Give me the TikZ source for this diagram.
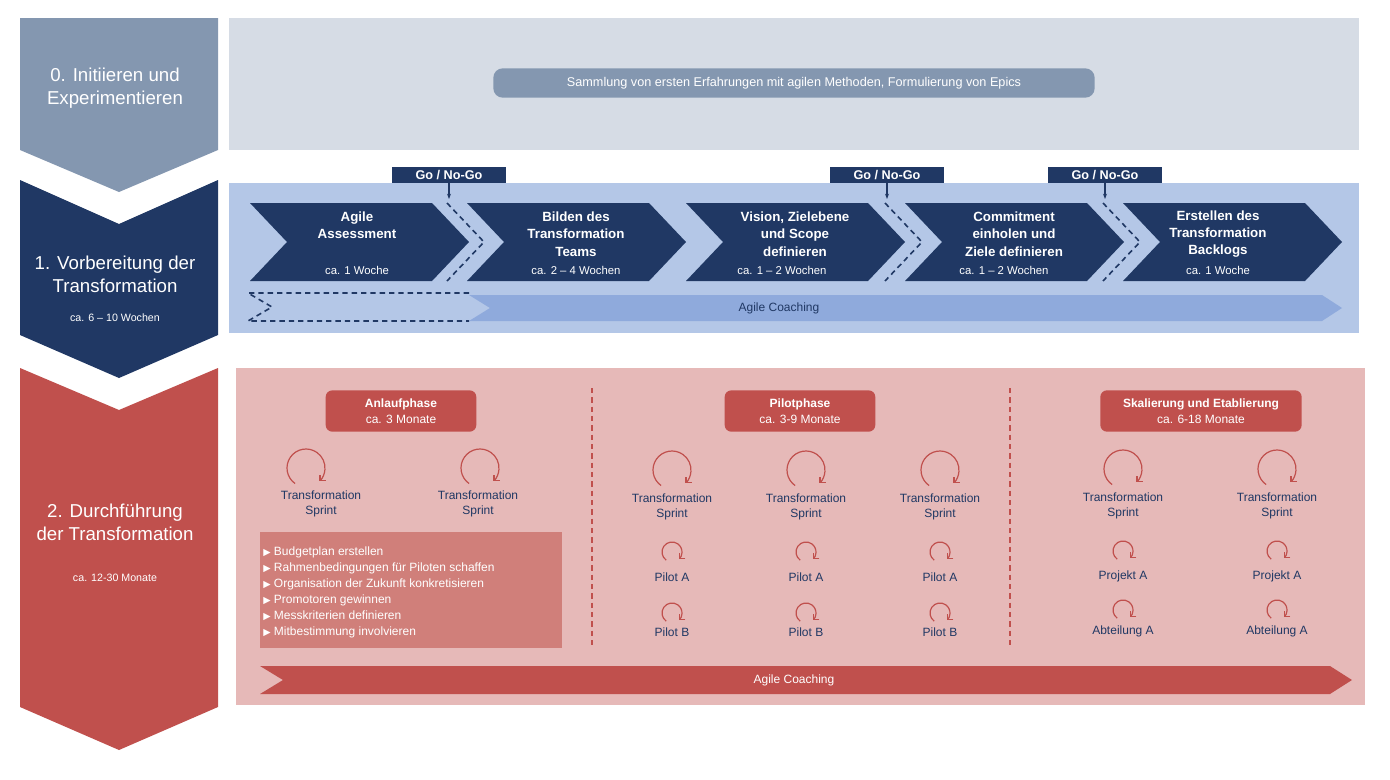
\documentclass[tikz,border=0pt]{standalone}
\usepackage{fontspec}
\setmainfont{Liberation Sans}
\usetikzlibrary{arrows.meta}
\definecolor{navy}{HTML}{203864}
\definecolor{grayblue}{HTML}{8497B0}
\definecolor{pale0}{HTML}{D6DCE5}
\definecolor{pale1}{HTML}{B4C7E7}
\definecolor{mid1}{HTML}{8FAADC}
\definecolor{red2}{HTML}{C0504D}
\definecolor{pale2}{HTML}{E6B9B8}
\definecolor{box2}{HTML}{D07F7A}
\newcommand{\mycyc}[3]{\draw[red2,line width=0.9pt,-{Straight Barb[length=3pt]}] (#1,#2) ++(-235:#3) arc[start angle=-235,end angle=45,radius=#3];}
\begin{document}
\begin{tikzpicture}[x=0.75pt,y=-0.75pt,
  phase/.style={text=white,align=center,font=\fontsize{14}{17}\selectfont},
  small/.style={text=white,font=\fontsize{8}{10}\selectfont},
  chev/.style={text=white,align=center,font=\bfseries\fontsize{10}{13}\selectfont},
  chevs/.style={text=white,font=\fontsize{8.5}{10}\selectfont},
  gobox/.style={fill=navy,text=white,font=\bfseries\fontsize{9.5}{11}\selectfont,minimum width=86pt,minimum height=12pt,inner sep=0pt},
  lbl/.style={text=navy,align=center,font=\fontsize{9}{11}\selectfont},
  hdr/.style={fill=red2,rounded corners=5pt,text=white,align=center,font=\fontsize{9}{12}\selectfont,minimum height=31pt,inner sep=0pt},
  dsh/.style={navy,dashed,line width=1.2pt,dash pattern=on 4pt off 3pt}]
\useasboundingbox (0,0) rectangle (1390,779);
\fill[white] (0,0) rectangle (1390,779);
% left chevrons
\fill[grayblue] (20,18) -- (218,18) -- (218,150) -- (119,192) -- (20,150) -- cycle;
\node[phase] (p0) at (115,88) {0. Initiieren und\\Experimentieren};
\fill[navy] (20,180) -- (119,224) -- (218,180) -- (218,335) -- (119,378) -- (20,335) -- cycle;
\node[phase] (p1) at (115,274) {1. Vorbereitung der\\Transformation};
\node[small] (p1d) at (115,318) {ca. 6 – 10 Wochen};
\fill[red2] (20,368) -- (119,410) -- (218,368) -- (218,707) -- (119,750) -- (20,707) -- cycle;
\node[phase] (p2) at (115,522) {2. Durchführung\\der Transformation};
\node[small] (p2d) at (115,578) {ca. 12-30 Monate};
% panel 0
\fill[pale0] (229,18) rectangle (1359,150);
\node[fill=grayblue,rounded corners=7pt,text=white,minimum width=451pt,minimum height=22pt,inner sep=0pt,font=\fontsize{9.5}{11}\selectfont] (epic) at (794,83) {Sammlung von ersten Erfahrungen mit agilen Methoden, Formulierung von Epics};
% panel 1
\fill[pale1] (229,183) rectangle (1359,333);
\foreach \L in {250,467,686,905,1123}{
  \fill[navy] (\L,203) -- (\L+182,203) -- (\L+219,242) -- (\L+182,281) -- (\L,281) -- (\L+37,242) -- cycle;}
\node[chev] (c1) at (357,225) {Agile\\Assessment};
\node[chevs] (c1d) at (357,270) {ca. 1 Woche};
\node[chev] (c2) at (576,234) {Bilden des\\Transformation\\Teams};
\node[chevs] (c2d) at (576,270) {ca. 2 – 4 Wochen};
\node[chev] (c3) at (795,234) {Vision, Zielebene\\und Scope\\definieren};
\node[chevs] (c3d) at (782,270) {ca. 1 – 2 Wochen};
\node[chev] (c4) at (1014,234) {Commitment\\einholen und\\Ziele definieren};
\node[chevs] (c4d) at (1004,270) {ca. 1 – 2 Wochen};
\node[chev] (c5) at (1218,234) {Erstellen des\\Transformation\\Backlogs};
\node[chevs] (c5d) at (1218,270) {ca. 1 Woche};
% agile coaching bar 1
\fill[mid1] (469,295) -- (1322,295) -- (1342,308) -- (1322,321) -- (469,321) -- (490,308) -- cycle;
\node[text=navy,font=\fontsize{9}{11}\selectfont] (ac1) at (779,308) {Agile Coaching};
\draw[dsh] (469,293) -- (248,293) -- (272,307) -- (248,321) -- (469,321);
% dashed separators
\foreach \L in {467,905,1123}{
  \draw[dsh] (\L-20,203) -- (\L+17,242) -- (\L-20,281);}
% go boxes
\node[gobox] (g1) at (449,175) {Go / No-Go};
\node[gobox] (g2) at (887,175) {Go / No-Go};
\node[gobox] (g3) at (1105,175) {Go / No-Go};
\coordinate (a1) at (449,199);\coordinate (a2) at (887,199);\coordinate (a3) at (1105,199);
\foreach \i in {1,2,3}{\draw[navy,line width=0.8pt,-{Stealth[length=4pt]}] (g\i.south) -- (a\i);}
% panel 2
\fill[pale2] (236,368) rectangle (1365,705);
\draw[red2,dashed,line width=1pt,dash pattern=on 4pt off 3pt] (592,388) -- (592,648);
\draw[red2,dashed,line width=1pt,dash pattern=on 4pt off 3pt] (1010,388) -- (1010,648);
\node[hdr,minimum width=113pt] (h1) at (401,411) {\textbf{Anlaufphase}\\ca. 3 Monate};
\node[hdr,minimum width=113pt] (h2) at (800,411) {\textbf{Pilotphase}\\ca. 3-9 Monate};
\node[hdr,minimum width=151pt] (h3) at (1201,411) {\textbf{Skalierung und Etablierung}\\ca. 6-18 Monate};
% sprints
\foreach \x/\y in {306/468,480/468}{\mycyc{\x}{\y}{19}}
\node[lbl] (s1) at (321,504) {Transformation\\Sprint};
\node[lbl] (s2) at (478,504) {Transformation\\Sprint};
\foreach \x in {672,806,940}{
  \mycyc{\x}{470}{19}
  \mycyc{\x}{552}{10}
  \mycyc{\x}{613}{10}
  \node[lbl] at (\x,507) {Transformation\\Sprint};
  \node[lbl] at (\x,577) {Pilot A};
  \node[lbl] at (\x,632) {Pilot B};}
\foreach \x in {1123,1277}{
  \mycyc{\x}{469}{19}
  \mycyc{\x}{551}{10}
  \mycyc{\x}{610}{10}
  \node[lbl] at (\x,506) {Transformation\\Sprint};
  \node[lbl] at (\x,576) {Projekt A};
  \node[lbl] at (\x,631) {Abteilung A};}
% list box
\fill[box2] (260,532) rectangle (562,648);
\node[text=white,align=left,anchor=north west,inner sep=0pt,font=\fontsize{9}{12}\selectfont] (list) at (263,547) {%
\fontspec{DejaVu Sans}\scalebox{0.8}{▶}\setmainfont{Liberation Sans}\rmfamily{} Budgetplan erstellen\\
{\fontspec{DejaVu Sans}\scalebox{0.8}{▶}} Rahmenbedingungen für Piloten schaffen\\
{\fontspec{DejaVu Sans}\scalebox{0.8}{▶}} Organisation der Zukunft konkretisieren\\
{\fontspec{DejaVu Sans}\scalebox{0.8}{▶}} Promotoren gewinnen\\
{\fontspec{DejaVu Sans}\scalebox{0.8}{▶}} Messkriterien definieren\\
{\fontspec{DejaVu Sans}\scalebox{0.8}{▶}} Mitbestimmung involvieren};
% agile coaching bar 2
\fill[red2] (260,666) -- (1330,666) -- (1352,680) -- (1330,694) -- (260,694) -- (283,680) -- cycle;
\node[text=white,font=\fontsize{9}{11}\selectfont] (ac2) at (794,680) {Agile Coaching};
\end{tikzpicture}
\end{document}
